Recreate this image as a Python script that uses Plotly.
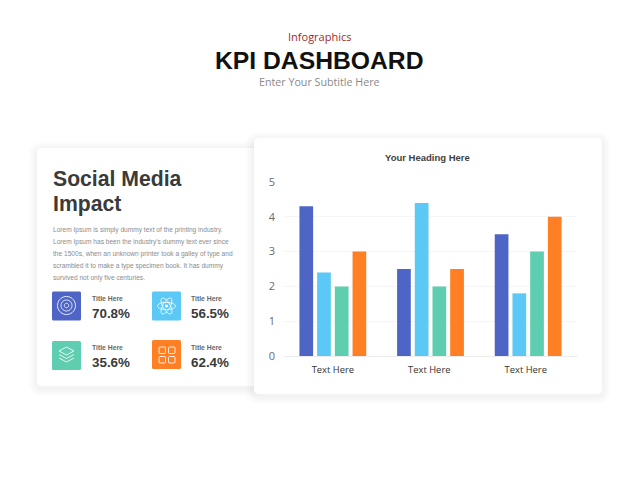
import math
import plotly.graph_objects as go

W, H = 638, 478

categories = ["Text Here", "Text Here ", "Text Here  "]
series_a = [4.3, 2.5, 3.5]
series_b = [2.4, 4.4, 1.8]
series_c = [2.0, 2.0, 3.0]
series_d = [3.0, 2.5, 4.0]
y_ticks = [0, 1, 2, 3, 4, 5]

kpi_titles = ["Title Here", "Title Here", "Title Here", "Title Here"]
kpi_values = ["70.8%", "56.5%", "35.6%", "62.4%"]

lorem_lines = [
    "Lorem Ipsum is simply dummy text of the printing industry.",
    "Lorem Ipsum has been the industry's dummy text ever since",
    "the 1500s, when an unknown printer took a galley of type and",
    "scrambled it to make a type specimen book. It has dummy",
    "survived not only five centuries.",
]

BLUE = "#4f65c6"
SKY = "#5bc8f5"
GREEN = "#5fcdb0"
ORANGE = "#ff7f24"


# pixel position on the page -> paper coordinates
def px(x):
    return x / W


def py(y):
    return 1 - y / H


def round_rect(x0, y0, x1, y1, r):
    p = f"M {px(x0 + r)} {py(y0)} L {px(x1 - r)} {py(y0)} "
    p += f"Q {px(x1)} {py(y0)} {px(x1)} {py(y0 + r)} L {px(x1)} {py(y1 - r)} "
    p += f"Q {px(x1)} {py(y1)} {px(x1 - r)} {py(y1)} L {px(x0 + r)} {py(y1)} "
    p += f"Q {px(x0)} {py(y1)} {px(x0)} {py(y1 - r)} L {px(x0)} {py(y0 + r)} "
    p += f"Q {px(x0)} {py(y0)} {px(x0 + r)} {py(y0)} Z"
    return p


def poly(points):
    p = "M " + " L ".join(f"{px(x)} {py(y)}" for x, y in points)
    return p


def ring(cx, cy, rx, ry=None, rot=0):
    if ry is None:
        ry = rx
    pts = []
    for i in range(37):
        t = i * math.pi / 18
        ex, ey = rx * math.cos(t), ry * math.sin(t)
        c, s = math.cos(rot), math.sin(rot)
        pts.append((cx + ex * c - ey * s, cy + ex * s + ey * c))
    return poly(pts) + " Z"


shapes = []


def add_path(path, fill=None, line=None, width=1, layer="below"):
    shapes.append(dict(
        type="path", path=path, xref="paper", yref="paper", layer=layer,
        fillcolor=fill or "rgba(0,0,0,0)",
        line=dict(color=line or "rgba(0,0,0,0)", width=width if line else 0),
    ))


def add_card(x0, y0, x1, y1):
    for grow in [8, 6, 4, 2]:
        add_path(round_rect(x0 - grow, y0 - grow + 2, x1 + grow, y1 + grow + 2, 6 + grow),
                 fill="rgba(120,120,120,0.018)")
    add_path(round_rect(x0, y0, x1, y1, 5), fill="#ffffff")


add_card(37, 148, 262, 386)
add_card(254, 138, 602, 394)

# icon tiles
add_path(round_rect(52, 291.5, 81, 320.5, 1.5), fill=BLUE)
add_path(round_rect(152, 291.5, 181, 320.5, 1.5), fill=SKY)
add_path(round_rect(52, 341, 81, 370, 1.5), fill=GREEN)
add_path(round_rect(152, 340, 181, 369, 1.5), fill=ORANGE)

# target icon
for r in [9, 5.5, 2.2]:
    add_path(ring(66.5, 305.5, r), line="rgba(255,255,255,0.85)", width=1)

# atom icon
for a in [0, math.pi / 3, 2 * math.pi / 3]:
    add_path(ring(166.5, 306, 9, 3.6, a), line="rgba(255,255,255,0.85)", width=1)
add_path(ring(166.5, 306, 1.5), fill="rgba(255,255,255,0.9)")

# layers icon
add_path(poly([(66.5, 347), (74, 351), (66.5, 355), (59, 351)]) + " Z",
         line="rgba(255,255,255,0.85)", width=1)
add_path(poly([(59, 354.5), (66.5, 358.5), (74, 354.5)]), line="rgba(255,255,255,0.85)", width=1)
add_path(poly([(59, 358), (66.5, 362), (74, 358)]), line="rgba(255,255,255,0.85)", width=1)

# grid icon
for gx in [159, 168.5]:
    for gy in [347, 356.5]:
        add_path(round_rect(gx, gy, gx + 6.5, gy + 6.5, 1), line="rgba(255,255,255,0.85)", width=1)

annotations = []


def add_text(x, y, text, size, color, family="Liberation Sans", bold=False, anchor="left"):
    annotations.append(dict(
        x=px(x), y=py(y), xref="paper", yref="paper", text=f"<b>{text}</b>" if bold else text,
        showarrow=False, xanchor=anchor, yanchor="middle", align=anchor,
        font=dict(size=size, color=color, family=family),
    ))


add_text(319, 37, "Infographics", 11, "#a5282c", "Open Sans", anchor="center")
add_text(319, 60, "KPI DASHBOARD", 24.7, "#111111", bold=True, anchor="center")
add_text(319, 82.5, "Enter Your Subtitle Here", 10.7, "#8a8a8a", "Open Sans", anchor="center")

add_text(51, 178, "Social Media", 21.2, "#3a3a3a", bold=True)
add_text(51, 204, "Impact", 21.2, "#3a3a3a", bold=True)
for i, line in enumerate(lorem_lines):
    add_text(51, 229.5 + i * 12, line, 6.6, "#8c8c8c")

kpi_x = [90, 189, 90, 189]
kpi_y = [298.5, 298.5, 347.5, 347.5]
for x, y, t, v in zip(kpi_x, kpi_y, kpi_titles, kpi_values):
    add_text(x, y, t, 6.8, "#666666", bold=True)
    add_text(x, y + 14.5, v, 13.4, "#3a3a3a", bold=True)

add_text(428, 157.5, "Your Heading Here", 9.5, "#3f3f3f", bold=True, anchor="center")

fig = go.Figure()
for vals, color in zip([series_a, series_b, series_c, series_d], [BLUE, SKY, GREEN, ORANGE]):
    fig.add_trace(go.Bar(x=categories, y=vals, marker=dict(color=color, line=dict(width=0))))

fig.update_layout(
    width=W,
    height=H,
    margin=dict(l=0, r=0, t=0, b=0, autoexpand=False),
    paper_bgcolor="white",
    plot_bgcolor="rgba(0,0,0,0)",
    showlegend=False,
    hovermode=False,
    barmode="group",
    bargap=0.275,
    bargroupgap=0.226,
    shapes=shapes,
    annotations=annotations,
    xaxis=dict(
        domain=[px(284), px(577)],
        tickfont=dict(size=9.4, color="#333333", family="Open Sans"),
        showgrid=False,
        showline=True,
        linecolor="#ececec",
        linewidth=1,
        ticks="",
        ticklabelstandoff=5,
    ),
    yaxis=dict(
        domain=[py(356), py(182)],
        range=[0, 5],
        tickvals=y_ticks,
        tickfont=dict(size=11, color="#6b6b6b", family="Open Sans"),
        gridcolor="#f5f5f5",
        gridwidth=1,
        zeroline=False,
        ticks="",
        ticklabelstandoff=8,
    ),
)

fig.write_html("out.html", post_script="document.body.style.margin='0';",
               config=dict(displayModeBar=False))
